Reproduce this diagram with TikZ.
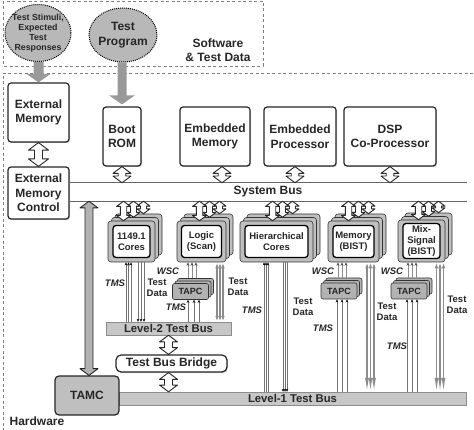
\documentclass[tikz,border=0pt]{standalone}
\usepackage{fontspec}
\setmainfont{Liberation Sans}
\usetikzlibrary{positioning,calc,shapes.geometric,shadows,arrows.meta}
\tikzset{region/.style={draw=black!50, line width=0.8pt, dash pattern=on 3pt off 2.5pt}}
\tikzset{blk/.style={draw=black!85, line width=1.2pt, rounded corners=3, fill=white, align=center, inner sep=0pt, text=black!85, font=\bfseries\fontsize{12}{14.5}\selectfont, drop shadow={shadow xshift=1pt, shadow yshift=-1pt, opacity=0.4}}}
\tikzset{cloud/.style={ellipse, draw=black, densely dotted, line width=1pt, fill=black!28, inner sep=0pt}}
\tikzset{cloudtxt/.style={align=center, inner sep=0pt, text=black!85}}
\tikzset{corestack/.style={draw=black!80, line width=0.6pt, rounded corners=3, fill=black!25, inner sep=0pt, double copy shadow={shadow xshift=3.5pt, shadow yshift=3.5pt}}}
\tikzset{coreinner/.style={draw=black, line width=1.3pt, rounded corners=3, fill=white, align=center, inner sep=0pt, text=black!85, font=\bfseries\fontsize{9.5}{11}\selectfont}}
\tikzset{tapc/.style={draw=black!80, line width=0.6pt, rounded corners=2, fill=black!30, inner sep=0pt, minimum width=36pt, minimum height=16pt, text=black!85, font=\bfseries\fontsize{9}{10}\selectfont, double copy shadow={shadow xshift=2.5pt, shadow yshift=2.5pt}}}
\tikzset{tbus/.style={draw=black!45, fill=black!22, inner sep=0pt, text=black!85, font=\bfseries\fontsize{11.3}{12}\selectfont}}
\tikzset{tamcbox/.style={draw=black!85, line width=1.2pt, rounded corners=4, fill=black!25, inner sep=0pt, text=black!85, font=\bfseries\fontsize{12}{14}\selectfont}}
\tikzset{lbl/.style={align=center, inner sep=0pt, text=black!85, font=\bfseries\fontsize{9.5}{11}\selectfont}}
\tikzset{sigl/.style={inner sep=0pt, text=black!85, font=\bfseries\itshape\fontsize{9.5}{11}\selectfont}}
\tikzset{hollow/.style={draw=black!85, fill=white, line width=0.9pt, line join=round}}
\tikzset{bigarr/.style={draw=black!85, fill=black!30, line width=0.9pt, line join=round}}
\tikzset{fat/.style={fill=black!40}}
\tikzset{busline/.style={draw=black!60, line width=0.8pt}}
\tikzset{sigline/.style={draw=black!55, line width=0.5pt}}
\tikzset{tipup/.style={-{Stealth[length=3pt, width=2.6pt, black]}}}
\tikzset{wscline/.style={draw=black!45, line width=1pt, -{Stealth[length=3.5pt, width=3pt, black!70]}}}
\tikzset{tdata/.style={draw=black!45, line width=1.3pt, {Latex[length=6pt, width=3.5pt]}-{Latex[length=6pt, width=3.5pt]}}}
\tikzset{tdatalong/.style={draw=black!45, line width=1.3pt, {Latex[length=6pt, width=3.5pt]}-{Latex[length=14pt, width=4pt]}}}
% up-down arrow: style, x point, top, bottom, head half width, shaft half width
\newcommand\vhollow[6]{%
  \path[#1] let \p1=#2, \p2=#3, \p3=#4 in
    (\x1,\y2) -- (\x1-#5,\y2-0.75*#5) -- (\x1-#6,\y2-0.75*#5) -- (\x1-#6,\y3+0.75*#5)
    -- (\x1-#5,\y3+0.75*#5) -- (\x1,\y3) -- (\x1+#5,\y3+0.75*#5) -- (\x1+#6,\y3+0.75*#5)
    -- (\x1+#6,\y2-0.75*#5) -- (\x1+#5,\y2-0.75*#5) -- cycle;}
% down arrow: style, x point, top, bottom, head half width, shaft half width
\newcommand\fatarrow[6]{%
  \path[#1] let \p1=#2, \p2=#3, \p3=#4 in
    (\x1-#6,\y2) -- (\x1-#6,\y3+0.7*#5) -- (\x1-#5,\y3+0.7*#5) -- (\x1,\y3)
    -- (\x1+#5,\y3+0.7*#5) -- (\x1+#6,\y3+0.7*#5) -- (\x1+#6,\y2) -- cycle;}
\begin{document}
\begin{tikzpicture}[x=1pt, y=-1pt]
\useasboundingbox (0,0) rectangle (474,430);

% regions
\draw[region] (3,1) rectangle (263,66);
\draw[region] (473,73) -- (3,73) -- (3,440);
\node[lbl, font=\bfseries\fontsize{12}{14.5}\selectfont] (swlbl) at (218,50) {Software\\\& Test Data};
\node[lbl, font=\bfseries\fontsize{12}{14.5}\selectfont] (hwlbl) at (37,421) {Hardware};

% test data sources
\node[cloud, minimum width=66pt, minimum height=57pt] (stim) at (38,33) {};
\node[cloudtxt, font=\bfseries\fontsize{8.8}{10}\selectfont] (stimtxt) at (stim.center) {Test Stimuli,\\Expected\\Test\\Responses};
\node[cloud, minimum width=68pt, minimum height=54pt] (prog) at (123,35) {};
\node[cloudtxt, font=\bfseries\fontsize{12}{15}\selectfont] (progtxt) at (prog.center) {Test\\Program};

% system blocks
\node[blk, minimum width=61pt, minimum height=59pt] (extmem) at (38.5,112.5) {External\\Memory};
\node[blk, minimum width=61pt, minimum height=52pt] (emc) at (38.5,193) {External\\Memory\\Control};
\node[blk, minimum width=38pt, minimum height=59pt] (bootrom) at (122,136.5) {Boot\\ROM};
\node[blk, minimum width=70pt, minimum height=59pt] (embmem) at (215,136.5) {Embedded\\Memory};
\node[blk, minimum width=72pt, minimum height=59pt] (embproc) at (300,136.5) {Embedded\\Processor};
\node[blk, minimum width=92pt, minimum height=59pt] (dsp) at (390,136.5) {DSP\\Co-Processor};

\fatarrow{fat}{(extmem.north)}{(stim.south)}{(extmem.north)}{12pt}{5pt}
\fatarrow{fat}{(bootrom.north)}{(prog.south)}{([yshift=2pt]bootrom.north)}{13pt}{4.5pt}

% system bus
\node[inner sep=0pt, minimum width=398pt, minimum height=18pt, text=black!85, font=\bfseries\fontsize{12}{14}\selectfont] (sysbus) at (268,192) {System Bus};
\draw[busline] (sysbus.north west) -- (sysbus.north east) (sysbus.south west) -- (sysbus.south east);

\vhollow{hollow}{(extmem.south)}{(extmem.south)}{(emc.north)}{10pt}{4pt}
\foreach \nm/\dx in {bootrom/0, embmem/7, embproc/-5, dsp/0}
  \vhollow{hollow}{([xshift=\dx*1pt]\nm.south)}{(\nm.south)}{(sysbus.north)}{9pt}{3.8pt};

% cores
\node[corestack, minimum width=47pt, minimum height=41pt] (c1149) at (131.5,241.5) {};
\node[coreinner, minimum width=37pt, minimum height=32pt] (c1149in) at (c1149.center) {1149.1\\Cores};
\node[corestack, minimum width=49pt, minimum height=41pt] (clogic) at (201.5,241.5) {};
\node[coreinner, minimum width=40pt, minimum height=32pt] (clogicin) at (clogic.center) {Logic\\(Scan)};
\node[corestack, minimum width=73pt, minimum height=41pt] (chier) at (276.5,241.5) {};
\node[coreinner, minimum width=63pt, minimum height=32pt] (chierin) at (chier.center) {Hierarchical\\Cores};
\node[corestack, minimum width=51pt, minimum height=41pt] (cmem) at (353.5,241.5) {};
\node[coreinner, minimum width=41pt, minimum height=32pt] (cmemin) at (cmem.center) {Memory\\(BIST)};
\node[corestack, minimum width=47pt, minimum height=42pt] (cmix) at (421.5,241) {};
\node[coreinner, minimum width=37pt, minimum height=35pt] (cmixin) at (cmix.center) {Mix-\\Signal\\(BIST)};

\foreach \nm/\dx in {c1149/-8, clogic/-2, chier/-4, cmem/-5, cmix/-3} {
  \vhollow{hollow}{([xshift={(\dx+20)*1pt}]\nm.north)}{(sysbus.south)}{([yshift=7pt]\nm.north)}{6.5pt}{3pt}
  \vhollow{hollow}{([xshift={(\dx+10)*1pt}]\nm.north)}{(sysbus.south)}{([yshift=3.5pt]\nm.north)}{6.5pt}{3pt}
  \vhollow{hollow}{([xshift=\dx*1pt]\nm.north)}{(sysbus.south)}{(\nm.north)}{7pt}{3.2pt}
}

% test buses
\node[tbus, minimum width=125pt, minimum height=13pt] (l2bus) at (168.5,328.5) {Level-2 Test Bus};
\node[tbus, minimum width=347pt, minimum height=13pt] (l1bus) at (292.5,398.5) {Level-1 Test Bus};
\node[blk, rounded corners=5, minimum width=111pt, minimum height=17pt] (bridge) at (171.5,363.5) {Test Bus Bridge};
\node[tamcbox, minimum width=64pt, minimum height=39pt] (tamc) at (87,395.5) {TAMC};

\vhollow{hollow}{(l2bus.south)}{(l2bus.south)}{(bridge.north)}{9pt}{4pt}
\vhollow{hollow}{(l2bus.south)}{(bridge.south)}{(l1bus.north)}{9pt}{4pt}
\vhollow{bigarr}{([xshift=2pt]tamc.north)}{(sysbus.south)}{(tamc.north)}{9pt}{4pt}

% wrappers
\node[tapc] (tlogic) at (190.5,291.5) {TAPC};
\node[tapc] (tmem) at (339,291) {TAPC};
\node[tapc] (tmix) at (409,291) {TAPC};

% 1149.1 cores
\foreach \dx in {-5.5,-3,-0.5}
  \draw[sigline, tipup] ($(c1149.south |- l2bus.north)+(\dx,0)$) -- ($(c1149.south)+(\dx,0)$);
\foreach \dx in {6.5,9.5,12.5}
  \draw[sigline, tipup] ($(c1149.south)+(\dx,0)$) -- ($(c1149.south |- l2bus.north)+(\dx,0)$);
\node[sigl] (tms1) at (115,283) {TMS};
\node[lbl] (td1) at (157,288) {Test\\Data};

% logic cores
\foreach \dx in {-2.5,1.5,5.5}
  \draw[wscline] ($(tlogic.north)+(\dx,-5)$) -- ($(tlogic.north |- clogic.south)+(\dx,0)$);
\foreach \dx in {-2.5,3.5,8.5}
  \draw[sigline, tipup] ($(tlogic.south |- l2bus.north)+(\dx,0)$) -- ($(tlogic.south)+(\dx,0)$);
\foreach \dx in {15.5,18.5,21.5}
  \draw[tdata] ($(clogic.south)+(\dx,0)$) -- ($(clogic.south |- l2bus.north)+(\dx,0)$);
\node[sigl] (wsc2) at (168,271) {WSC};
\node[sigl] (tms2) at (176,307) {TMS};
\node[lbl] (td2) at (238,287) {Test\\Data};

% hierarchical cores
\foreach \dx in {-12.5,-10.5,-8.5}
  \draw[sigline, tipup] ($(chier.south |- l1bus.north)+(\dx,0)$) -- ($(chier.south)+(\dx,0)$);
\foreach \dx in {6.5,8.5,10.5}
  \draw[sigline, tipup] ($(chier.south)+(\dx,0)$) -- ($(chier.south |- l1bus.north)+(\dx,0)$);
\node[sigl] (tms3) at (252,310) {TMS};
\node[lbl] (td3) at (303,307) {Test\\Data};

% memory cores
\foreach \dx in {-1,3,7}
  \draw[wscline] ($(tmem.north)+(\dx,-5)$) -- ($(tmem.north |- cmem.south)+(\dx,0)$);
\foreach \dx in {-2,3,8}
  \draw[sigline, tipup] ($(tmem.south |- l1bus.north)+(\dx,0)$) -- ($(tmem.south)+(\dx,0)$);
\foreach \dx in {13.5,17,20.5}
  \draw[tdatalong] ($(cmem.south)+(\dx,0)$) -- ($(cmem.south |- l1bus.north)+(\dx,0)$);
\node[sigl] (wsc4) at (323,271) {WSC};
\node[sigl] (tms4) at (323,328) {TMS};
\node[lbl] (td4) at (387,312) {Test\\Data};

% mixed-signal cores
\foreach \dx in {-1,3,7}
  \draw[wscline] ($(tmix.north)+(\dx,-5)$) -- ($(tmix.north |- cmix.south)+(\dx,0)$);
\foreach \dx in {-2,3,8}
  \draw[sigline, tipup] ($(tmix.south |- l1bus.north)+(\dx,0)$) -- ($(tmix.south)+(\dx,0)$);
\foreach \dx in {15,18.5,22}
  \draw[tdatalong] ($(cmix.south)+(\dx,0)$) -- ($(cmix.south |- l1bus.north)+(\dx,0)$);
\node[sigl] (wsc5) at (392,271) {WSC};
\node[sigl] (tms5) at (397,346) {TMS};
\node[lbl] (td5) at (457,305) {Test\\Data};
\end{tikzpicture}
\end{document}
